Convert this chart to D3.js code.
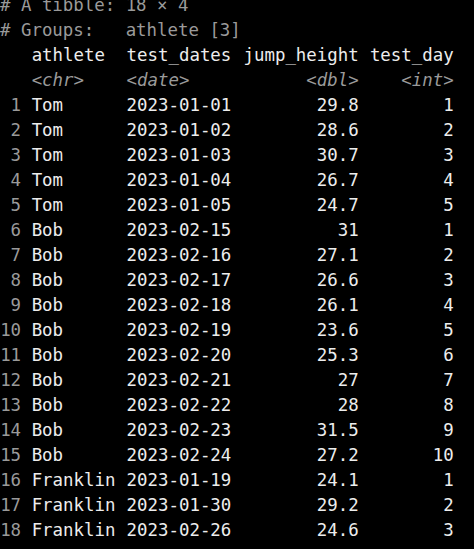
<!DOCTYPE html>
<html><head><meta charset="utf-8">
<script src="https://cdn.jsdelivr.net/npm/d3@7"></script>
<style>body{margin:0;background:#000;overflow:hidden} text{white-space:pre}</style>
</head><body>
<script>
const athlete = ["Tom","Tom","Tom","Tom","Tom","Bob","Bob","Bob","Bob","Bob","Bob","Bob","Bob","Bob","Bob","Franklin","Franklin","Franklin"]
const test_dates = ["2023-01-01","2023-01-02","2023-01-03","2023-01-04","2023-01-05","2023-02-15","2023-02-16","2023-02-17","2023-02-18","2023-02-19","2023-02-20","2023-02-21","2023-02-22","2023-02-23","2023-02-24","2023-01-19","2023-01-30","2023-02-26"]
const jump_height = ["29.8","28.6","30.7","26.7","24.7","31","27.1","26.6","26.1","23.6","25.3","27","28","31.5","27.2","24.1","29.2","24.6"]
const test_day = [1,2,3,4,5,1,2,3,4,5,6,7,8,9,10,1,2,3]
const colNames = ["athlete","test_dates","jump_height","test_day"]
const colTypes = ["<chr>","<date>","<dbl>","<int>"]

const width = 474, height = 549
const cw = 10.55 // char width
const svg = d3.select("body").append("svg").attr("width",width).attr("height",height)

const x = d3.scaleLinear().domain([0,1]).range([0,cw])
const y = d3.scaleLinear().domain([0,1]).range([11,36])

// columns: [start col, end col, align]
const cols = [[3,11,"start"],[12,22,"start"],[23,34,"end"],[35,43,"end"]]

const font = "'DejaVu Sans Mono', monospace"
function put(line,col,txt,opts={}){
  svg.append("text")
    .attr("x",x(col)).attr("y",y(line))
    .attr("xml:space","preserve")
    .attr("text-anchor",opts.anchor||"start")
    .attr("font-family",font).attr("font-size",17.4)
    .attr("font-style",opts.italic?"italic":null)
    .attr("fill",opts.fill||"#ededed")
    .text(txt)
}
const grey = "#9a9a9a"
put(0,0,"# A tibble: 18 × 4",{fill:grey})
put(1,0,"# Groups:   athlete [3]",{fill:grey})
colNames.forEach((c,i)=>{
  const [s,e,a]=cols[i]
  put(2,a==="start"?s:e,c,{anchor:a})
  put(3,a==="start"?s:e,colTypes[i],{anchor:a,italic:true,fill:grey})
})
athlete.forEach((d,i)=>{
  const line=4+i
  put(line,2,String(i+1),{anchor:"end",fill:grey})
  const vals=[d,test_dates[i],jump_height[i],test_day[i]]
  vals.forEach((v,j)=>{
    const [s,e,a]=cols[j]
    put(line,a==="start"?s:e,v,{anchor:a})
  })
})
</script>
</body></html>
